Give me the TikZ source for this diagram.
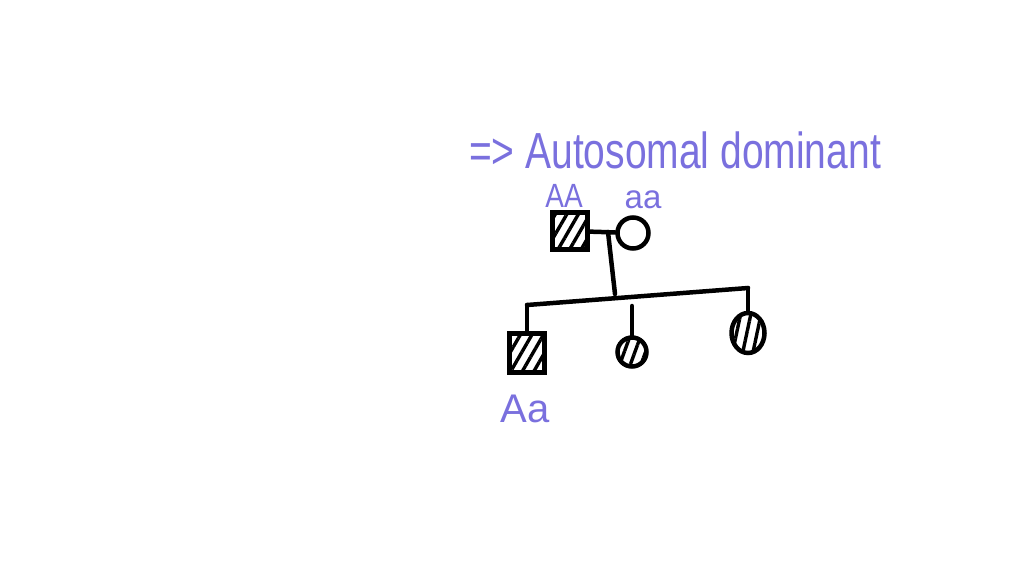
\documentclass[tikz,border=0pt]{standalone}
\usepackage{fontspec}
\setmainfont{Liberation Sans}
\usetikzlibrary{shapes.geometric, patterns.meta}

\definecolor{pen}{RGB}{122,112,222}

\tikzset{
  ink/.style={line width=4.5pt, line cap=round, draw=black},
  male/.style={ink, rectangle, minimum width=35pt, minimum height=37pt, inner sep=0pt},
  female/.style={ink, circle, minimum size=31pt, inner sep=0pt},
  affected/.style={pattern={Lines[angle=#1, distance=10pt, line width=3.4pt]}},
  affected/.default=60,
  genotype/.style={text=pen, inner sep=0pt}
}

\begin{document}
\begin{tikzpicture}[x=1pt, y=-1pt]
  \useasboundingbox (0,0) rectangle (1024,576);

  % heading
  \node[genotype, font=\fontsize{39}{44}\selectfont] (title) at (675,150)
    {\scalebox{1}[1.3]{=> Autosomal dominant}};

  % parents
  \node[male, affected] (father) at (570,231) {};
  \node[female] (mother) at (633,233) {};
  \node[genotype, font=\fontsize{28}{32}\selectfont] (fatherGt) at (564,196) {\scalebox{1}[1.2]{AA}};
  \node[genotype, font=\fontsize{30}{32}\selectfont] (motherGt) at (643,200) {\scalebox{1.1}[1.1]{aa}};
  \draw[ink] (father) -- (mother);

  % descent and sibship lines
  \coordinate (mate) at (608,232);
  \coordinate (sib) at (615,294);
  \coordinate (sibL) at (527,305);
  \coordinate (sibR) at (748,288);
  \coordinate (drop) at (632,306);
  \draw[ink] (mate) -- (sib);
  \draw[ink] (sibL) -- (sibR);

  % children
  \node[male, affected, minimum height=39pt] (son) at (527,353) {};
  \node[female, affected=70, minimum size=29pt] (daughter) at (632,352) {};
  \node[ink, ellipse, affected=78, minimum width=33pt, minimum height=40pt, inner sep=0pt] (daughterB) at (748,333) {};
  \node[genotype, font=\fontsize{40}{44}\selectfont] (sonGt) at (525,409) {Aa};

  \draw[ink] (sibL) -- (son);
  \draw[ink] (drop) -- (daughter);
  \draw[ink] (sibR) -- (daughterB);
\end{tikzpicture}
\end{document}
